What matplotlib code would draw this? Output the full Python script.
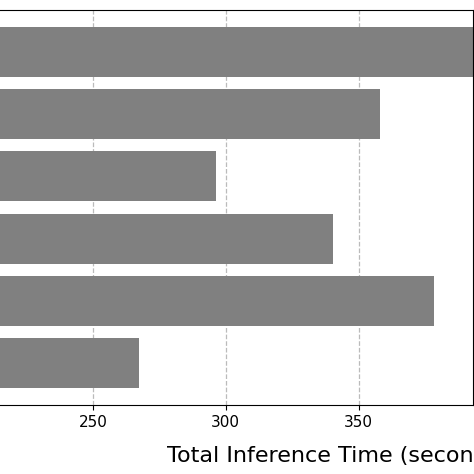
import matplotlib
matplotlib.use("Agg")
import matplotlib.pyplot as plt

# values (top to bottom)
models = ["A", "B", "C", "D", "E", "F"]
times = [400, 358, 296.5, 340.5, 378.5, 267.5]

W = 474.0
fig = plt.figure(figsize=(4.74, 4.74), dpi=100)
# axes extends beyond the left edge of the canvas (cropped source)
left_px, right_px = -173.0, 473.0
top_px, bot_px = 10.0, 405.0
ax = fig.add_axes([left_px / W, 1 - bot_px / W,
                   (right_px - left_px) / W, (bot_px - top_px) / W])

ypos = list(range(len(models)))[::-1]
ax.barh(ypos, times, height=0.8, color="#808080", zorder=2)
ax.set_xlim(150, 393)
ax.set_ylim(-0.67, 5.67)
ax.set_xticks([250, 300, 350])
ax.tick_params(axis="x", labelsize=11)
ax.set_yticks(ypos)
ax.set_yticklabels(models)
ax.grid(axis="x", linestyle="--", color="#bbbbbb", linewidth=0.9, zorder=0)
ax.set_xlabel("Total Inference Time (seconds)", fontsize=16)
ax.xaxis.set_label_coords(0.79, -0.105)

fig.savefig("out.png", dpi=100)
